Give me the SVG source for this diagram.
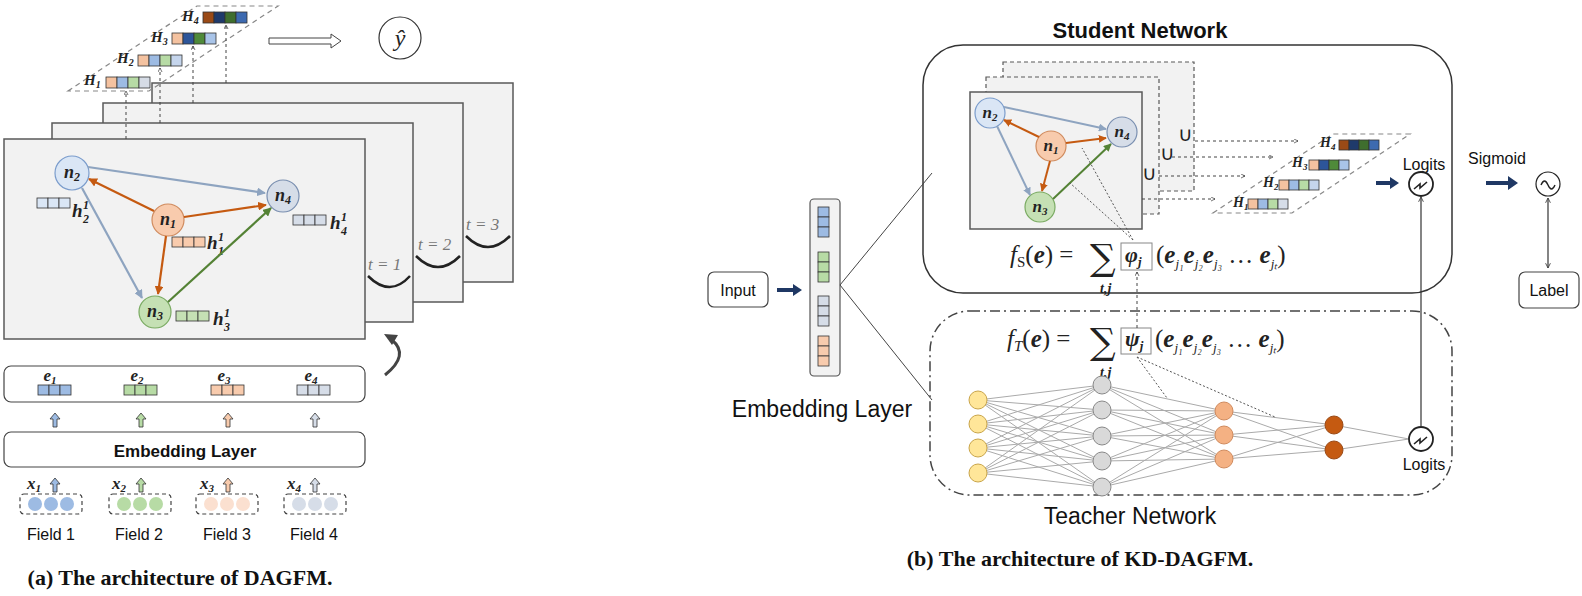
<svg xmlns="http://www.w3.org/2000/svg" width="1582" height="596" viewBox="0 0 1582 596">
<defs>
<style>
.frame{fill:#f2f2f2;stroke:#595959;stroke-width:1.5}
.dframe{fill:#f2f2f2;stroke:#595959;stroke-width:1.2;stroke-dasharray:4 3}
.nl{font-family:"Liberation Serif",serif;font-weight:bold;font-style:italic;fill:#222}
.sans{font-family:"Liberation Sans",Arial,sans-serif;fill:#111}
.cap{font-family:"Liberation Serif",serif;font-weight:bold;font-size:22px;fill:#111}
.cell{stroke:#333;stroke-width:0.8}
.dash{stroke:#444;stroke-width:1;stroke-dasharray:3 3;fill:none}
.math{font-family:"Liberation Serif",serif;font-size:25px;fill:#222}
.sig{font-family:"DejaVu Serif",serif;font-size:36px;fill:#222}
.nn{stroke:#aaa;stroke-width:1;fill:none}
</style>
<marker id="ah" viewBox="0 0 10 10" refX="9" refY="5" markerWidth="5" markerHeight="5" orient="auto-start-reverse"><path d="M1 1L9 5L1 9" fill="none" stroke="#444" stroke-width="1.5"/></marker>
<marker id="ao" viewBox="0 0 10 10" refX="9" refY="5" markerWidth="4" markerHeight="4" orient="auto"><path d="M0 0L10 5L0 10z" fill="#c55a11"/></marker>
<marker id="ab" viewBox="0 0 10 10" refX="9" refY="5" markerWidth="4" markerHeight="4" orient="auto"><path d="M0 0L10 5L0 10z" fill="#8ea4c0"/></marker>
<marker id="ag" viewBox="0 0 10 10" refX="9" refY="5" markerWidth="4" markerHeight="4" orient="auto"><path d="M0 0L10 5L0 10z" fill="#548235"/></marker>
</defs>

<g id="a-frames">
<rect class="frame" x="152" y="83" width="361" height="199"/>
<rect class="frame" x="103" y="103" width="360" height="199"/>
<rect class="frame" x="52" y="123" width="361" height="199"/>
<rect class="frame" x="4" y="139" width="361" height="200"/>
<g font-family="Liberation Serif,serif" font-style="italic" font-size="17" fill="#777">
<text x="368" y="270">t = 1</text><text x="418" y="250">t = 2</text><text x="466" y="230">t = 3</text>
</g>
<g fill="none" stroke="#222" stroke-width="2.5">
<path d="M368 276Q390 298 410 276"/><path d="M416 256Q438 278 460 256"/><path d="M466 236Q488 258 510 236"/>
</g>
</g>

<g id="a-output">
<polygon points="68,91 197,6 278,6 149,91" fill="none" stroke="#888" stroke-width="1.2" stroke-dasharray="5 4"/>
<g class="nl" font-size="15">
<text x="182" y="21">H<tspan font-size="10" dy="3">4</tspan></text>
<text x="151" y="42">H<tspan font-size="10" dy="3">3</tspan></text>
<text x="117" y="63">H<tspan font-size="10" dy="3">2</tspan></text>
<text x="84" y="85">H<tspan font-size="10" dy="3">1</tspan></text>
</g>
<g class="cell">
<rect x="203" y="12" width="11" height="11" fill="#9a4a16"/><rect x="214" y="12" width="11" height="11" fill="#1f3a6b"/><rect x="225" y="12" width="11" height="11" fill="#3f6e2e"/><rect x="236" y="12" width="11" height="11" fill="#3d6ab0"/>
<rect x="172" y="33" width="11" height="11" fill="#f4c2a0"/><rect x="183" y="33" width="11" height="11" fill="#2d5599"/><rect x="194" y="33" width="11" height="11" fill="#4f8a3a"/><rect x="205" y="33" width="11" height="11" fill="#a9c4e8"/>
<rect x="138" y="55" width="11" height="11" fill="#f4c2a0"/><rect x="149" y="55" width="11" height="11" fill="#9dbbe3"/><rect x="160" y="55" width="11" height="11" fill="#b7dba5"/><rect x="171" y="55" width="11" height="11" fill="#c5d5ec"/>
<rect x="106" y="77" width="11" height="11" fill="#f4c2a0"/><rect x="117" y="77" width="11" height="11" fill="#9dbbe3"/><rect x="128" y="77" width="11" height="11" fill="#b7dba5"/><rect x="139" y="77" width="11" height="11" fill="#d6dce6"/>
</g>
<circle cx="400" cy="38" r="21" fill="#fff" stroke="#333" stroke-width="1.2"/>
<text x="400" y="46" text-anchor="middle" font-family="Liberation Serif,serif" font-style="italic" font-size="24" fill="#222">ŷ</text>
</g>

<g id="a-nodes">
<circle cx="72" cy="173" r="17" fill="#dae6f5" stroke="#7a9ccc" stroke-width="1.2"/>
<circle cx="283" cy="196" r="16" fill="#d6dde8" stroke="#7a8fb0" stroke-width="1.2"/>
<circle cx="168" cy="220" r="16" fill="#f8cbad" stroke="#d08b5e" stroke-width="1.2"/>
<circle cx="155" cy="312" r="16" fill="#c5e0b4" stroke="#7aab62" stroke-width="1.2"/>
<g class="nl" font-size="18" text-anchor="middle">
<text x="72" y="178">n<tspan font-size="12" dy="3">2</tspan></text>
<text x="283" y="201">n<tspan font-size="12" dy="3">4</tspan></text>
<text x="168" y="225">n<tspan font-size="12" dy="3">1</tspan></text>
<text x="155" y="317">n<tspan font-size="12" dy="3">3</tspan></text>
</g>
<g class="cell">
<rect x="37" y="198" width="11" height="10" fill="#dae6f5"/><rect x="48" y="198" width="11" height="10" fill="#dae6f5"/><rect x="59" y="198" width="11" height="10" fill="#dae6f5"/>
<rect x="293" y="215" width="11" height="10" fill="#d6dde8"/><rect x="304" y="215" width="11" height="10" fill="#d6dde8"/><rect x="315" y="215" width="11" height="10" fill="#d6dde8"/>
<rect x="172" y="237" width="11" height="10" fill="#f8cbad"/><rect x="183" y="237" width="11" height="10" fill="#f8cbad"/><rect x="194" y="237" width="11" height="10" fill="#f8cbad"/>
<rect x="176" y="311" width="11" height="10" fill="#c5e0b4"/><rect x="187" y="311" width="11" height="10" fill="#c5e0b4"/><rect x="198" y="311" width="11" height="10" fill="#c5e0b4"/>
</g>
<g class="nl" font-size="19">
<text x="72" y="217">h<tspan font-size="12" dy="-8" x="83">1</tspan><tspan font-size="12" x="83" dy="14">2</tspan></text>
<text x="330" y="229">h<tspan font-size="12" dy="-8" x="341">1</tspan><tspan font-size="12" x="341" dy="14">4</tspan></text>
<text x="207" y="249">h<tspan font-size="12" dy="-8" x="218">1</tspan><tspan font-size="12" x="218" dy="14">1</tspan></text>
<text x="213" y="325">h<tspan font-size="12" dy="-8" x="224">1</tspan><tspan font-size="12" x="224" dy="14">3</tspan></text>
</g>
</g>

<g id="a-input">
<rect x="4" y="366" width="361" height="36" rx="7" fill="#fff" stroke="#444" stroke-width="1.2"/>
<g class="nl" font-size="17" text-anchor="middle">
<text x="50" y="381">e<tspan font-size="11" dy="3">1</tspan></text>
<text x="137" y="381">e<tspan font-size="11" dy="3">2</tspan></text>
<text x="224" y="381">e<tspan font-size="11" dy="3">3</tspan></text>
<text x="311" y="381">e<tspan font-size="11" dy="3">4</tspan></text>
</g>
<g class="cell">
<rect x="38" y="385" width="11" height="10" fill="#9dbbe3"/><rect x="49" y="385" width="11" height="10" fill="#9dbbe3"/><rect x="60" y="385" width="11" height="10" fill="#9dbbe3"/>
<rect x="124" y="385" width="11" height="10" fill="#b7dba5"/><rect x="135" y="385" width="11" height="10" fill="#b7dba5"/><rect x="146" y="385" width="11" height="10" fill="#b7dba5"/>
<rect x="211" y="385" width="11" height="10" fill="#f8cbad"/><rect x="222" y="385" width="11" height="10" fill="#f8cbad"/><rect x="233" y="385" width="11" height="10" fill="#f8cbad"/>
<rect x="297" y="385" width="11" height="10" fill="#d6dde8"/><rect x="308" y="385" width="11" height="10" fill="#d6dde8"/><rect x="319" y="385" width="11" height="10" fill="#d6dde8"/>
</g>
<rect x="4" y="432" width="361" height="35" rx="7" fill="#fff" stroke="#444" stroke-width="1.2"/>
<text x="185" y="457" text-anchor="middle" class="sans" font-size="17" font-weight="bold">Embedding Layer</text>
<g class="nl" font-size="17">
<text x="27" y="489">x<tspan font-size="11" dy="3">1</tspan></text>
<text x="112" y="489">x<tspan font-size="11" dy="3">2</tspan></text>
<text x="200" y="489">x<tspan font-size="11" dy="3">3</tspan></text>
<text x="287" y="489">x<tspan font-size="11" dy="3">4</tspan></text>
</g>
<g stroke="#333" stroke-width="0.8">
<path d="M55 413l-5 6h3v8h4v-8h3z" fill="#9dbbe3"/><path d="M141 413l-5 6h3v8h4v-8h3z" fill="#b7dba5"/><path d="M228 413l-5 6h3v8h4v-8h3z" fill="#f8cbad"/><path d="M315 413l-5 6h3v8h4v-8h3z" fill="#d6dde8"/>
<path d="M55 478l-5 6h3v8h4v-8h3z" fill="#9dbbe3"/><path d="M141 478l-5 6h3v8h4v-8h3z" fill="#b7dba5"/><path d="M228 478l-5 6h3v8h4v-8h3z" fill="#f8cbad"/><path d="M315 478l-5 6h3v8h4v-8h3z" fill="#d6dde8"/>
</g>
<g fill="none" stroke="#444" stroke-width="1.2" stroke-dasharray="4 3">
<rect x="20" y="494" width="62" height="20" rx="4"/><rect x="109" y="494" width="62" height="20" rx="4"/><rect x="196" y="494" width="62" height="20" rx="4"/><rect x="284" y="494" width="62" height="20" rx="4"/>
</g>
<g>
<circle cx="35" cy="504" r="7" fill="#9dbbe3"/><circle cx="51" cy="504" r="7" fill="#9dbbe3"/><circle cx="67" cy="504" r="7" fill="#9dbbe3"/>
<circle cx="124" cy="504" r="7" fill="#b7dba5"/><circle cx="140" cy="504" r="7" fill="#b7dba5"/><circle cx="156" cy="504" r="7" fill="#b7dba5"/>
<circle cx="211" cy="504" r="7" fill="#fbe0d0"/><circle cx="227" cy="504" r="7" fill="#fbe0d0"/><circle cx="243" cy="504" r="7" fill="#fbe0d0"/>
<circle cx="299" cy="504" r="7" fill="#d6dde8"/><circle cx="315" cy="504" r="7" fill="#d6dde8"/><circle cx="331" cy="504" r="7" fill="#d6dde8"/>
</g>
<g class="sans" font-size="16" text-anchor="middle">
<text x="51" y="540">Field 1</text><text x="139" y="540">Field 2</text><text x="227" y="540">Field 3</text><text x="314" y="540">Field 4</text>
</g>
</g>
<text x="180" y="585" text-anchor="middle" class="cap">(a) The architecture of DAGFM.</text>

<g id="b-input">
<rect x="708" y="272" width="60" height="35" rx="6" fill="#fff" stroke="#444" stroke-width="1.2"/>
<text x="738" y="296" text-anchor="middle" class="sans" font-size="16">Input</text>
</g>
<g id="b-embedding">
<rect x="810" y="199" width="30" height="177" rx="4" fill="#f2f2f2" stroke="#555" stroke-width="1.2"/>
<g class="cell">
<rect x="818" y="207" width="11" height="10" fill="#9dbbe3"/><rect x="818" y="217" width="11" height="10" fill="#9dbbe3"/><rect x="818" y="227" width="11" height="10" fill="#9dbbe3"/>
<rect x="818" y="252" width="11" height="10" fill="#b7dba5"/><rect x="818" y="262" width="11" height="10" fill="#b7dba5"/><rect x="818" y="272" width="11" height="10" fill="#b7dba5"/>
<rect x="818" y="296" width="11" height="10" fill="#d6dde8"/><rect x="818" y="306" width="11" height="10" fill="#d6dde8"/><rect x="818" y="316" width="11" height="10" fill="#d6dde8"/>
<rect x="818" y="336" width="11" height="10" fill="#f8cbad"/><rect x="818" y="346" width="11" height="10" fill="#f8cbad"/><rect x="818" y="356" width="11" height="10" fill="#f8cbad"/>
</g>
<text x="822" y="417" text-anchor="middle" class="sans" font-size="23">Embedding Layer</text>
</g>

<g id="b-student">
<rect x="923" y="45" width="529" height="248" rx="40" fill="#fff" stroke="#333" stroke-width="1.5"/>
<text x="1140" y="38" text-anchor="middle" class="sans" font-size="22" font-weight="bold">Student Network</text>
<rect class="dframe" x="1003" y="62" width="191" height="129"/>
<rect class="dframe" x="986" y="77" width="173" height="137"/>
<rect class="frame" x="970" y="92" width="172" height="137"/>
<g font-family="Liberation Serif,serif" font-size="20" fill="#222">
<text x="1142" y="180">∪</text><text x="1160" y="160">∪</text><text x="1178" y="141">∪</text>
</g>
<circle cx="990" cy="113" r="15" fill="#dae6f5" stroke="#7a9ccc" stroke-width="1.2"/>
<circle cx="1122" cy="132" r="15" fill="#d6dde8" stroke="#7a8fb0" stroke-width="1.2"/>
<circle cx="1051" cy="146" r="15" fill="#f8cbad" stroke="#d08b5e" stroke-width="1.2"/>
<circle cx="1040" cy="207" r="15" fill="#c5e0b4" stroke="#7aab62" stroke-width="1.2"/>
<g class="nl" font-size="17" text-anchor="middle">
<text x="990" y="118">n<tspan font-size="11" dy="3">2</tspan></text>
<text x="1122" y="137">n<tspan font-size="11" dy="3">4</tspan></text>
<text x="1051" y="151">n<tspan font-size="11" dy="3">1</tspan></text>
<text x="1040" y="212">n<tspan font-size="11" dy="3">3</tspan></text>
</g>
<polygon points="1213,213 1333,134 1410,134 1292,213" fill="none" stroke="#888" stroke-width="1.2" stroke-dasharray="5 4"/>
<g class="nl" font-size="14">
<text x="1320" y="147">H<tspan font-size="9" dy="3">4</tspan></text>
<text x="1292" y="167">H<tspan font-size="9" dy="3">3</tspan></text>
<text x="1263" y="187">H<tspan font-size="9" dy="3">2</tspan></text>
<text x="1233" y="207">H<tspan font-size="9" dy="3">1</tspan></text>
</g>
<g class="cell">
<rect x="1339" y="140" width="10" height="10" fill="#9a4a16"/><rect x="1349" y="140" width="10" height="10" fill="#1f3a6b"/><rect x="1359" y="140" width="10" height="10" fill="#3f6e2e"/><rect x="1369" y="140" width="10" height="10" fill="#3d6ab0"/>
<rect x="1309" y="160" width="10" height="10" fill="#f4c2a0"/><rect x="1319" y="160" width="10" height="10" fill="#2d5599"/><rect x="1329" y="160" width="10" height="10" fill="#4f8a3a"/><rect x="1339" y="160" width="10" height="10" fill="#a9c4e8"/>
<rect x="1279" y="180" width="10" height="10" fill="#f4c2a0"/><rect x="1289" y="180" width="10" height="10" fill="#9dbbe3"/><rect x="1299" y="180" width="10" height="10" fill="#b7dba5"/><rect x="1309" y="180" width="10" height="10" fill="#c5d5ec"/>
<rect x="1248" y="199" width="10" height="10" fill="#f4c2a0"/><rect x="1258" y="199" width="10" height="10" fill="#9dbbe3"/><rect x="1268" y="199" width="10" height="10" fill="#b7dba5"/><rect x="1278" y="199" width="10" height="10" fill="#d6dde8"/>
</g>
<text x="1010" y="263" class="math"><tspan font-style="italic">f</tspan><tspan font-size="15" dy="4">S</tspan><tspan dy="-4">(</tspan><tspan font-weight="bold" font-style="italic">e</tspan>) =</text>
<text x="1090" y="270" class="sig">∑</text>
<text x="1100" y="293" class="nl" font-size="14">t,j</text>
<rect x="1121" y="243" width="31" height="27" fill="none" stroke="#888" stroke-width="1"/>
<text x="1125" y="262" class="nl" font-size="22">φ<tspan font-size="13" dy="4">j</tspan></text>
<text x="1156" y="263" class="math">(<tspan font-weight="bold" font-style="italic">e</tspan><tspan font-size="13" dy="5" font-style="italic">j₁</tspan><tspan dy="-5" font-weight="bold" font-style="italic">e</tspan><tspan font-size="13" dy="5" font-style="italic">j₂</tspan><tspan dy="-5" font-weight="bold" font-style="italic">e</tspan><tspan font-size="13" dy="5" font-style="italic">j₃</tspan><tspan dy="-5"> … </tspan><tspan font-weight="bold" font-style="italic">e</tspan><tspan font-size="13" dy="5" font-style="italic">jₜ</tspan><tspan dy="-5">)</tspan></text>
<text x="1424" y="170" text-anchor="middle" class="sans" font-size="16">Logits</text>
<circle cx="1421" cy="184" r="12" fill="#fff" stroke="#222" stroke-width="1.8"/>
<path d="M1414 189l6-5v4l7-6" fill="none" stroke="#222" stroke-width="1.6"/>
</g>

<g id="b-teacher">
<rect x="930" y="311" width="522" height="184" rx="40" fill="none" stroke="#444" stroke-width="1.5" stroke-dasharray="10 4 2 4"/>
<text x="1130" y="524" text-anchor="middle" class="sans" font-size="23">Teacher Network</text>
<text x="1007" y="347" class="math"><tspan font-style="italic">f</tspan><tspan font-size="15" dy="4" font-style="italic">T</tspan><tspan dy="-4">(</tspan><tspan font-weight="bold" font-style="italic">e</tspan>) =</text>
<text x="1090" y="354" class="sig">∑</text>
<text x="1100" y="377" class="nl" font-size="14">t,j</text>
<rect x="1121" y="328" width="30" height="26" fill="none" stroke="#888" stroke-width="1"/>
<text x="1125" y="346" class="nl" font-size="22">ψ<tspan font-size="13" dy="4">j</tspan></text>
<text x="1155" y="347" class="math">(<tspan font-weight="bold" font-style="italic">e</tspan><tspan font-size="13" dy="5" font-style="italic">j₁</tspan><tspan dy="-5" font-weight="bold" font-style="italic">e</tspan><tspan font-size="13" dy="5" font-style="italic">j₂</tspan><tspan dy="-5" font-weight="bold" font-style="italic">e</tspan><tspan font-size="13" dy="5" font-style="italic">j₃</tspan><tspan dy="-5"> … </tspan><tspan font-weight="bold" font-style="italic">e</tspan><tspan font-size="13" dy="5" font-style="italic">jₜ</tspan><tspan dy="-5">)</tspan></text>
<path class="nn" d="M978 400L1102 385M978 400L1102 410M978 400L1102 436M978 400L1102 461M978 400L1102 487M978 424L1102 385M978 424L1102 410M978 424L1102 436M978 424L1102 461M978 424L1102 487M978 448L1102 385M978 448L1102 410M978 448L1102 436M978 448L1102 461M978 448L1102 487M978 473L1102 385M978 473L1102 410M978 473L1102 436M978 473L1102 461M978 473L1102 487M1102 385L1224 411M1102 385L1224 435M1102 385L1224 459M1102 410L1224 411M1102 410L1224 435M1102 410L1224 459M1102 436L1224 411M1102 436L1224 435M1102 436L1224 459M1102 461L1224 411M1102 461L1224 435M1102 461L1224 459M1102 487L1224 411M1102 487L1224 435M1102 487L1224 459M1224 411L1334 425M1224 411L1334 450M1224 435L1334 425M1224 435L1334 450M1224 459L1334 425M1224 459L1334 450M1334 425L1409 439M1334 450L1409 439"/>
<g stroke-width="1">
<circle cx="978" cy="400" r="9" fill="#ffe699" stroke="#c9a54a"/><circle cx="978" cy="424" r="9" fill="#ffe699" stroke="#c9a54a"/><circle cx="978" cy="448" r="9" fill="#ffe699" stroke="#c9a54a"/><circle cx="978" cy="473" r="9" fill="#ffe699" stroke="#c9a54a"/>
<circle cx="1102" cy="385" r="9" fill="#d9d9d9" stroke="#888"/><circle cx="1102" cy="410" r="9" fill="#d9d9d9" stroke="#888"/><circle cx="1102" cy="436" r="9" fill="#d9d9d9" stroke="#888"/><circle cx="1102" cy="461" r="9" fill="#d9d9d9" stroke="#888"/><circle cx="1102" cy="487" r="9" fill="#d9d9d9" stroke="#888"/>
<circle cx="1224" cy="411" r="9" fill="#f4b183" stroke="#d08b5e"/><circle cx="1224" cy="435" r="9" fill="#f4b183" stroke="#d08b5e"/><circle cx="1224" cy="459" r="9" fill="#f4b183" stroke="#d08b5e"/>
<circle cx="1334" cy="425" r="9" fill="#c55a11" stroke="#9a4a16"/><circle cx="1334" cy="450" r="9" fill="#c55a11" stroke="#9a4a16"/>
</g>
<circle cx="1421" cy="439" r="12" fill="#fff" stroke="#222" stroke-width="1.8"/>
<path d="M1414 444l6-5v4l7-6" fill="none" stroke="#222" stroke-width="1.6"/>
<text x="1424" y="470" text-anchor="middle" class="sans" font-size="16">Logits</text>
</g>

<g id="b-sigmoid">
<text x="1497" y="164" text-anchor="middle" class="sans" font-size="16">Sigmoid</text>
<circle cx="1548" cy="184" r="12" fill="#fff" stroke="#222" stroke-width="1.2"/>
<path d="M1541 185q3.5-8 7 0t7 0" fill="none" stroke="#222" stroke-width="1.4"/>
</g>
<g id="b-label">
<rect x="1519" y="272" width="60" height="36" rx="6" fill="#fff" stroke="#444" stroke-width="1.2"/>
<text x="1549" y="296" text-anchor="middle" class="sans" font-size="16">Label</text>
</g>
<text x="1080" y="566" text-anchor="middle" class="cap">(b) The architecture of KD-DAGFM.</text>

<g id="connectors">
<line x1="126" y1="139" x2="126" y2="91" class="dash" marker-end="url(#ah)"/>
<line x1="160" y1="123" x2="160" y2="68" class="dash" marker-end="url(#ah)"/>
<line x1="193" y1="103" x2="193" y2="46" class="dash" marker-end="url(#ah)"/>
<line x1="226" y1="83" x2="226" y2="25" class="dash" marker-end="url(#ah)"/>
<path d="M269 38h62v-4l10 7l-10 7v-4h-62z" fill="#fff" stroke="#444" stroke-width="1"/>
<line x1="88" y1="167" x2="265" y2="193" stroke="#8ea4c0" stroke-width="2.2" marker-end="url(#ab)"/>
<line x1="154" y1="211" x2="89" y2="179" stroke="#c55a11" stroke-width="2.2" marker-end="url(#ao)"/>
<line x1="184" y1="217" x2="266" y2="205" stroke="#c55a11" stroke-width="2.2" marker-end="url(#ao)"/>
<line x1="166" y1="236" x2="158" y2="294" stroke="#c55a11" stroke-width="2.2" marker-end="url(#ao)"/>
<line x1="82" y1="188" x2="142" y2="298" stroke="#8ea4c0" stroke-width="2.2" marker-end="url(#ab)"/>
<line x1="168" y1="302" x2="271" y2="208" stroke="#548235" stroke-width="2.2" marker-end="url(#ag)"/>
<path d="M385 375Q410 355 392 340" fill="none" stroke="#444" stroke-width="3"/>
<path d="M384 334l14 1l-6 10z" fill="#444"/>
<line x1="1004" y1="107" x2="1106" y2="129" stroke="#8ea4c0" stroke-width="2" marker-end="url(#ab)"/>
<line x1="1039" y1="137" x2="1004" y2="120" stroke="#c55a11" stroke-width="2" marker-end="url(#ao)"/>
<line x1="1066" y1="143" x2="1106" y2="138" stroke="#c55a11" stroke-width="2" marker-end="url(#ao)"/>
<line x1="1050" y1="161" x2="1042" y2="191" stroke="#c55a11" stroke-width="2" marker-end="url(#ao)"/>
<line x1="997" y1="126" x2="1030" y2="195" stroke="#8ea4c0" stroke-width="2" marker-end="url(#ab)"/>
<line x1="1053" y1="199" x2="1111" y2="144" stroke="#548235" stroke-width="2" marker-end="url(#ag)"/>
<line x1="1195" y1="141" x2="1298" y2="141" class="dash" marker-end="url(#ah)"/>
<line x1="1172" y1="157" x2="1273" y2="157" class="dash" marker-end="url(#ah)"/>
<line x1="1159" y1="176" x2="1245" y2="176" class="dash" marker-end="url(#ah)"/>
<line x1="1142" y1="199" x2="1215" y2="199" class="dash" marker-end="url(#ah)"/>
<path d="M1133 240L1082 148M1133 240L1070 183" stroke="#555" stroke-width="1" stroke-dasharray="2 2" fill="none"/>
<path d="M1137 357L1167 398M1137 357L1275 417" stroke="#555" stroke-width="1" stroke-dasharray="2 2" fill="none"/>
<line x1="1137" y1="328" x2="1137" y2="272" class="dash" marker-end="url(#ah)"/>
<path d="M840 285L932 173M840 285L932 400" stroke="#444" stroke-width="1" fill="none"/>
<path d="M777 288h16v-4l9 6l-9 6v-4h-16z" fill="#1f3864"/>
<path d="M1376 181h14v-4l9 6l-9 6v-4h-14z" fill="#1f3864"/>
<path d="M1486 181h22v-5l10 7l-10 7v-5h-22z" fill="#1f3864"/>
<line x1="1421" y1="427" x2="1421" y2="197" stroke="#333" stroke-width="1.2" marker-end="url(#ah)"/>
<line x1="1548" y1="198" x2="1548" y2="268" stroke="#333" stroke-width="1.2" marker-start="url(#ah)" marker-end="url(#ah)"/>
</g>
</svg>
